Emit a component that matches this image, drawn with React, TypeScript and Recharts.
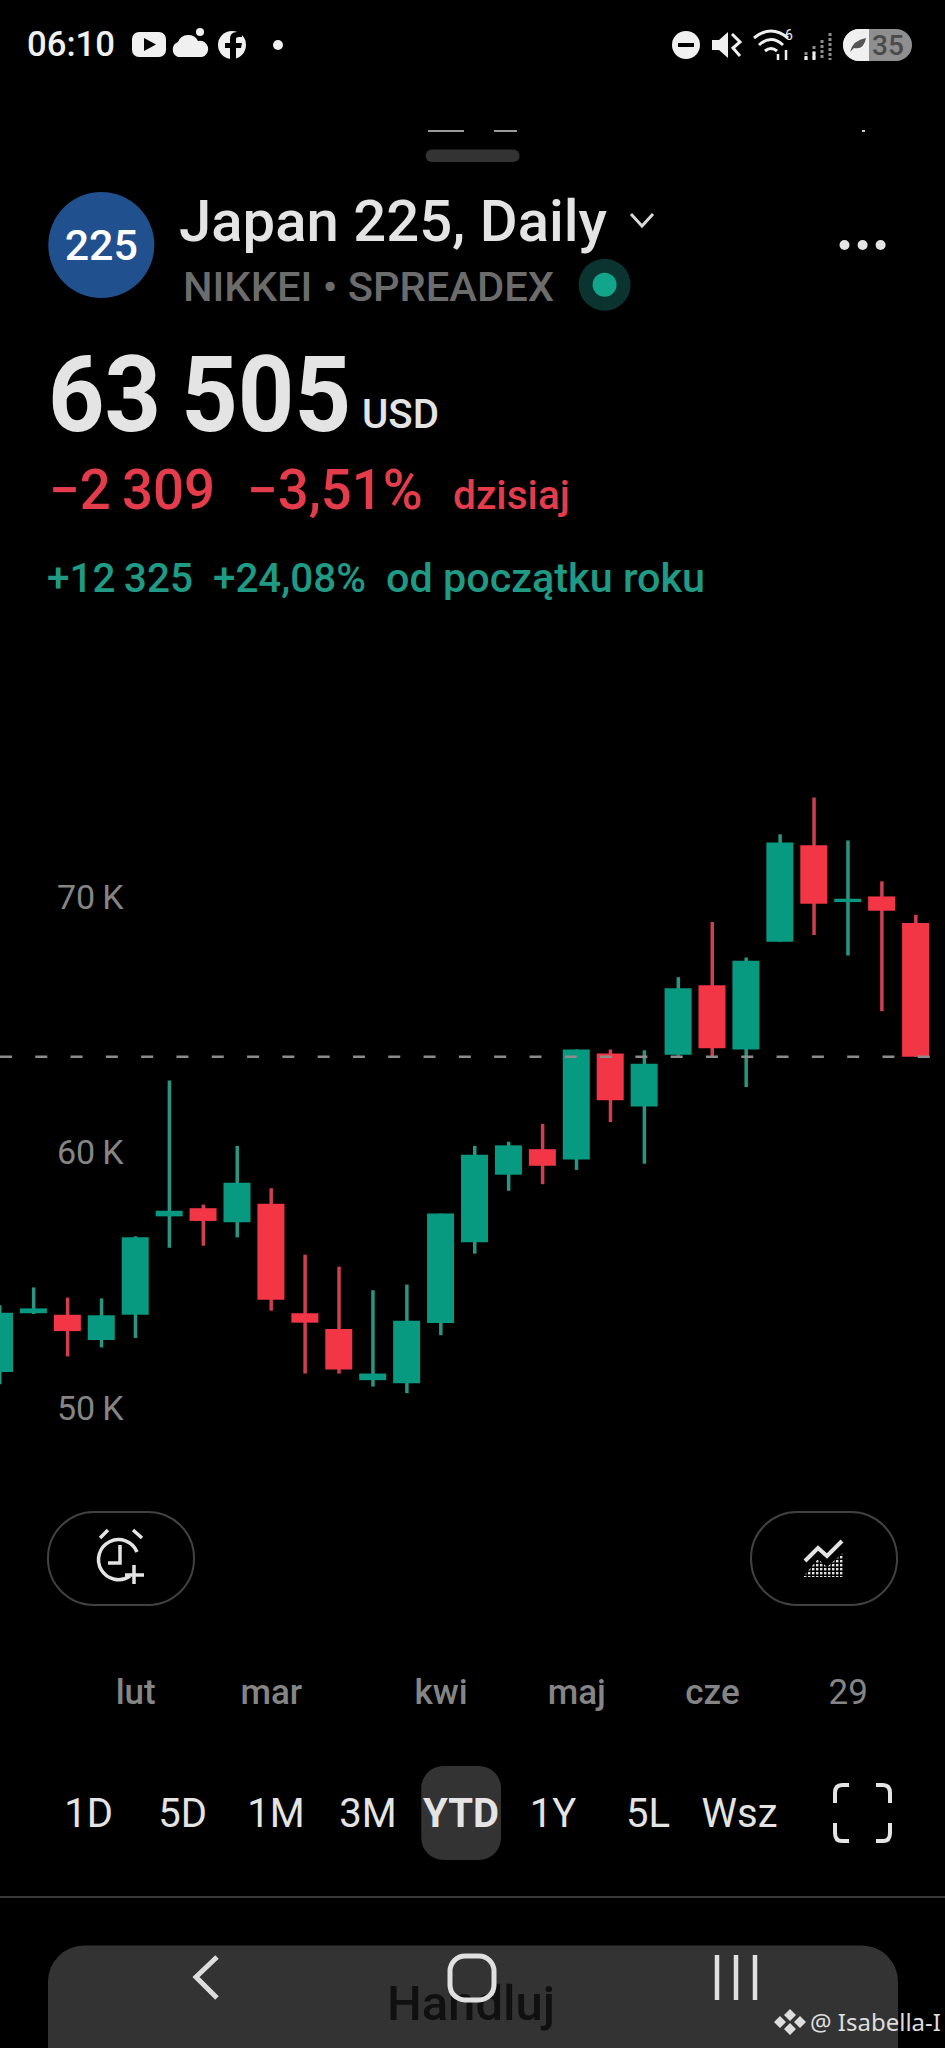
import { Bar, Cell, ComposedChart, ReferenceLine, XAxis, YAxis } from 'recharts';

const weeks = ['w0', 'w1', 'w2', 'w3', 'w4', 'w5', 'w6', 'w7', 'w8', 'w9', 'w10', 'w11', 'w12', 'w13', 'w14', 'w15', 'w16', 'w17', 'w18', 'w19', 'w20', 'w21', 'w22', 'w23', 'w24', 'w25', 'w26', 'w27'];
const opens = [51170, 53470, 53410, 52420, 53410, 57260, 57580, 57030, 57750, 53470, 52850, 50850, 50730, 53090, 56250, 58890, 59890, 59490, 63630, 61560, 63580, 66300, 63790, 68010, 71780, 69560, 69780, 68740];
const closes = [53490, 53660, 52770, 53390, 56440, 57480, 57080, 58580, 54000, 53100, 51270, 51110, 53180, 57370, 59670, 60040, 59240, 63790, 61800, 63230, 66190, 63840, 67260, 71890, 69490, 69690, 69220, 63505];
const highs = [53780, 54480, 54080, 54050, 56480, 62580, 57720, 60020, 58360, 55760, 55290, 54370, 54590, 57370, 60020, 60180, 60880, 63790, 63790, 63760, 66620, 68780, 67390, 72210, 73650, 71970, 70370, 69060];
const lows = [50690, 53440, 51780, 52130, 52500, 56030, 56110, 56440, 53570, 51110, 51110, 50600, 50340, 52610, 55800, 58260, 58520, 59080, 60950, 59320, 63550, 63500, 62320, 68010, 68270, 67470, 65290, 63505];

const priceTicks = [50000, 60000, 70000];
const lastPrice = 63505;
const monthWeeks = ['w4', 'w8', 'w13', 'w17', 'w21', 'w25'];
const monthLabels = ['lut', 'mar', 'kwi', 'maj', 'cze', '29'];
const ranges = ['1D', '5D', '1M', '3M', 'YTD', '1Y', '5L', 'Wsz'];
const rangeCenters = [88.6, 182.6, 276, 368, 461, 553, 648, 739.6];

const GREEN = '#089981';
const RED = '#f23645';
const GREEN_WICK = '#2a9583';
const RED_WICK = '#cf3f4f';
const font = 'Roboto, sans-serif';

const data = weeks.map((week, i) => ({
  week,
  wick: [lows[i], highs[i]],
  body: [Math.min(opens[i], closes[i]), Math.max(opens[i], closes[i])],
  up: closes[i] >= opens[i],
}));

const PriceTick = (props: any) => (
  <text x={74} y={props.y + 5.6} dy="0.36em" fontFamily={font} fontSize={34} fill="#858585">
    {props.payload.value / 1000}{'\u2009'}K
  </text>
);

const MonthTick = (props: any) => {
  const i = monthWeeks.indexOf(props.payload.value);
  return (
    <text x={props.x} y={1691 - 780} dy="0.36em" textAnchor="middle" fontFamily={font} fontSize={35}
      fontWeight={i === 5 ? 400 : 500} fill="#858585">
      {monthLabels[i]}
    </text>
  );
};

const Chart = () => (
  <div style={{ position: 'absolute', left: -16.97, top: 780 }}>
    <ComposedChart width={950} height={940} data={data} barGap={0} barCategoryGap={0}
      margin={{ top: 8.6, right: 0, bottom: 0, left: 0 }}>
      <XAxis xAxisId="wick" dataKey="week" hide />
      <XAxis xAxisId="body" dataKey="week" height={267} interval={0} ticks={monthWeeks}
        axisLine={false} tickLine={false} tick={<MonthTick />} />
      <YAxis type="number" domain={[48000, 74000]} ticks={priceTicks} width={60} mirror
        axisLine={false} tickLine={false} tick={<PriceTick />} />
      <Bar xAxisId="wick" dataKey="wick" barSize={3.5} isAnimationActive={false}>
        {data.map((d) => <Cell key={d.week} fill={d.up ? GREEN_WICK : RED_WICK} />)}
      </Bar>
      <Bar xAxisId="body" dataKey="body" barSize={27} isAnimationActive={false}>
        {data.map((d) => <Cell key={d.week} fill={d.up ? GREEN : RED} />)}
      </Bar>
      <ReferenceLine xAxisId="body" y={lastPrice} stroke="#8c8c8c" strokeWidth={2.5}
        strokeDasharray="12 23.3" strokeDashoffset={18.33} />
    </ComposedChart>
  </div>
);

// the screenshot's text is a bit condensed, so widths are pinned with textLength
const Label = ({ len, ...rest }: any) => (
  <text textLength={len} lengthAdjust="spacingAndGlyphs" {...rest} />
);

// everything around the chart: status bar, header, buttons, nav bar
const Screen = () => (
  <svg width={945} height={2048} style={{ position: 'absolute', left: 0, top: 0, pointerEvents: 'none' }} fontFamily={font}>
    <defs>
      <pattern id="dots" width={4} height={4} patternUnits="userSpaceOnUse">
        <rect width={2.4} height={2.4} fill="#e4e4e4" />
      </pattern>
    </defs>

    {/* status bar */}
    <Label x={27} y={56} len={88} fontSize={35} fontWeight={500} fill="#f0f0f0">06:10</Label>
    <rect x={132} y={32} width={34} height={25} rx={7} fill="#f0f0f0" />
    <path d="M144 38 L156 44.5 L144 51 Z" fill="#000" />
    <path d="M178 57 a8 8 0 0 1 0 -15 a11 11 0 0 1 20 -1 a8 8 0 0 1 4 16 Z" fill="#f0f0f0" />
    <circle cx={200} cy={32} r={4} fill="#f0f0f0" />
    <circle cx={232} cy={45} r={14} fill="#f0f0f0" />
    <path d="M236 59 V48 H241 L242 43 H236 V39 Q236 37 239 37 H242 V32 H237 Q230 32 230 39 V43 H225 V48 H230 V59 Z" fill="#000" />
    <circle cx={278} cy={45} r={5} fill="#f0f0f0" />
    <circle cx={686} cy={45} r={14} fill="#f0f0f0" />
    <rect x={678} y={43} width={16} height={4} fill="#000" />
    <path d="M712 40 H719 L728 32 V58 L719 50 H712 Z" fill="#f0f0f0" />
    <path d="M732 34 L740 42 L733 48 L740 56" stroke="#f0f0f0" strokeWidth={3} fill="none" />
    <path d="M754 38 Q771 24 788 38 M759 45 Q771 34 783 45 M765 51 Q771 46 777 51" stroke="#f0f0f0" strokeWidth={3} fill="none" />
    <text x={785} y={40} fontSize={14} fill="#f0f0f0">6</text>
    <path d="M778 54 V60 M786 50 V60" stroke="#f0f0f0" strokeWidth={2.5} />
    <path d="M806 52 V60 M814 46 V60 M822 40 V60 M830 33 V60" stroke="#8d8d8d" strokeWidth={3} strokeDasharray="3 2" />
    <path d="M806 56 V60 M814 52 V60" stroke="#f0f0f0" strokeWidth={3} />
    <rect x={843} y={29} width={69} height={32} rx={16} fill="#8f8f8f" />
    <path d="M859 29 A16 16 0 0 0 859 61 H869 V29 Z" fill="#f0f0f0" />
    <path d="M850 52 Q853 40 866 38 Q864 50 854 48 Z" fill="#555" />
    <text x={888} y={55} fontSize={28} textAnchor="middle" fontWeight={500} fill="#4a4a4a">35</text>

    {/* sheet handle and clipped row behind it */}
    <path d="M428 131 H464 M494 131 H517" stroke="#9a9a9a" strokeWidth={2} />
    <rect x={862} y={130} width={3} height={2} fill="#cccccc" />
    <rect x={425.6} y={149.5} width={94} height={12.5} rx={6.25} fill="#333333" />

    {/* instrument header */}
    <circle cx={101.3} cy={245} r={53} fill="#21508f" />
    <text x={101.3} y={260} fontSize={43} fontWeight={500} textAnchor="middle" fill="#ffffff">225</text>
    <Label x={179} y={241} len={428} fontSize={58} fontWeight={500} fill="#e4e4e4">Japan 225, Daily</Label>
    <path d="M631 214 L642 226 L653 214" stroke="#d8d8d8" strokeWidth={3} fill="none" />
    <circle cx={844.5} cy={245} r={5} fill="#e4e4e4" />
    <circle cx={862.6} cy={245} r={5} fill="#e4e4e4" />
    <circle cx={880.6} cy={245} r={5} fill="#e4e4e4" />
    <Label x={183} y={301} len={371} fontSize={41} fontWeight={500} fill="#6c6c6c">NIKKEI • SPREADEX</Label>
    <circle cx={604.6} cy={284.7} r={26} fill="#0b3430" />
    <circle cx={604.6} cy={284.7} r={12} fill="#12a58a" />

    {/* price block */}
    <Label x={48} y={431} len={303} fontSize={105} fontWeight={700} fill="#e4e4e4">63{'\u2009'}505</Label>
    <Label x={362} y={428} len={77} fontSize={40} fontWeight={500} fill="#e4e4e4">USD</Label>
    <Label x={49} y={509} len={166} fontSize={55} fontWeight={500} fill="#e53c4c">−2{'\u2009'}309</Label>
    <Label x={247} y={509} len={176} fontSize={55} fontWeight={500} fill="#e53c4c">−3,51%</Label>
    <Label x={453} y={509} len={117} fontSize={41} fontWeight={500} fill="#e53c4c">dzisiaj</Label>
    <Label x={47} y={592} len={146} fontSize={40} fontWeight={500} fill="#1f9a85">+12{'\u2009'}325</Label>
    <Label x={213} y={592} len={153} fontSize={40} fontWeight={500} fill="#1f9a85">+24,08%</Label>
    <Label x={386} y={592} len={319} fontSize={40} fontWeight={500} fill="#1f9a85">od początku roku</Label>

    {/* round buttons */}
    <rect x={48} y={1512} width={146} height={93} rx={46} fill="none" stroke="#414141" strokeWidth={2} />
    <rect x={751} y={1512} width={146} height={93} rx={46} fill="none" stroke="#414141" strokeWidth={2} />
    <path d="M130 1576 A20 20 0 1 1 137 1552" stroke="#e4e4e4" strokeWidth={3.5} fill="none" />
    <path d="M120 1545 V1563 H108 M100 1538 L108 1530 M133 1530 L142 1538 M134 1565 V1584 M125 1575 H144" stroke="#e4e4e4" strokeWidth={3.5} fill="none" />
    <path d="M805 1561 L818 1548 L827 1556 L842 1541" stroke="#e4e4e4" strokeWidth={4} fill="none" />
    <path d="M803 1577 L818 1559 L827 1567 L844 1552 V1577 Z" fill="url(#dots)" />

    {/* range picker */}
    <rect x={421.3} y={1766} width={79.7} height={94} rx={22} fill="#333333" />
    {ranges.map((r, i) => (
      <text key={r} x={rangeCenters[i]} y={1827} fontSize={40} textAnchor="middle"
        fontWeight={r === 'YTD' ? 700 : 400} fill="#e4e4e4">{r}</text>
    ))}
    <path d="M849 1785 H842 Q835 1785 835 1793 V1803 M876 1785 H883 Q890 1785 890 1793 V1803 M835 1823 V1833 Q835 1841 842 1841 H849 M890 1823 V1833 Q890 1841 883 1841 H876"
      stroke="#e4e4e4" strokeWidth={4} fill="none" />
    <rect x={0} y={1896} width={945} height={2} fill="#383838" />

    {/* trade button and system nav drawn over it */}
    <rect x={48} y={1945.6} width={850} height={140} rx={36} fill="#333333" />
    <text x={471} y={2020} fontSize={49} fontWeight={500} textAnchor="middle" fill="#101010">Handluj</text>
    <path d="M217 1957 L196 1977 L217 1998" stroke="#dddddd" strokeWidth={5} fill="none" />
    <rect x={450} y={1956} width={44} height={44} rx={15} fill="none" stroke="#e0e0e0" strokeWidth={5} />
    <path d="M717 1955 V2000 M736 1955 V2000 M755 1955 V2000" stroke="#e0e0e0" strokeWidth={4.5} />
    <path d="M790 2009 L796 2015 L790 2021 L784 2015 Z M790 2023 L796 2029 L790 2035 L784 2029 Z M780 2016 L786 2022 L780 2028 L774 2022 Z M800 2016 L806 2022 L800 2028 L794 2022 Z" fill="#dddddd" />
    <text x={810} y={2031} fontSize={24} fontFamily="'Noto Sans', sans-serif" fill="#dddddd">@ Isabella-I</text>
  </svg>
);

const App = () => (
  <div style={{ position: 'absolute', left: 0, top: 0, width: 945, height: 2048, background: '#000', overflow: 'hidden' }}>
    <Chart />
    <Screen />
  </div>
);

export default App;
